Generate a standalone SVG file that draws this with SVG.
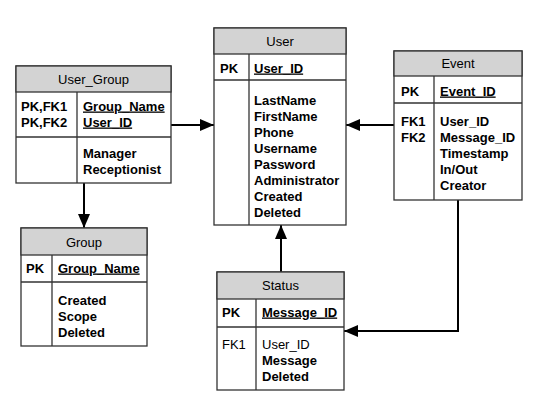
<svg xmlns="http://www.w3.org/2000/svg" width="540" height="410" viewBox="0 0 540 410">
<defs>
<marker id="arr" markerWidth="14" markerHeight="12" refX="14" refY="6" orient="auto" markerUnits="userSpaceOnUse">
<path d="M0,0 L14,6 L0,12 Z" fill="#000"/>
</marker>
</defs>
<style>
.box{fill:#fff;stroke:#333;stroke-width:1.3}
.hdr{fill:#d3d3d3;stroke:#333;stroke-width:1.3}
.ln{stroke:#333;stroke-width:1.3;fill:none}
text{font-family:"Liberation Sans",Arial,sans-serif;font-size:13px;fill:#000}
.h{text-anchor:middle}
.b{font-weight:bold}
.u{font-weight:bold;text-decoration:underline}
.con{stroke:#000;stroke-width:2;fill:none;marker-end:url(#arr)}
</style>
<rect width="540" height="410" fill="#fff"/>
<g id="connectors">
<path class="con" d="M171,125 H214"/>
<path class="con" d="M394,125 H346"/>
<path class="con" d="M84,183 V228"/>
<path class="con" d="M281,272 V225"/>
<path class="con" d="M458,200 V331 H344"/>
</g>
<g id="User">
<rect class="box" x="214" y="28" width="132" height="197"/>
<rect class="hdr" x="214" y="28" width="132" height="26"/>
<line class="ln" x1="214" y1="80" x2="346" y2="80"/>
<line class="ln" x1="249" y1="54" x2="249" y2="225"/>
<text class="h" x="280" y="45.5">User</text>
<text class="b" x="220" y="72.5">PK</text>
<text class="u" x="254" y="72.5">User_ID</text>
<text class="b" x="254" y="104.5">LastName</text>
<text class="b" x="254" y="120.5">FirstName</text>
<text class="b" x="254" y="136.5">Phone</text>
<text class="b" x="254" y="152.5">Username</text>
<text class="b" x="254" y="168.5">Password</text>
<text class="b" x="254" y="184.5">Administrator</text>
<text class="b" x="254" y="200.5">Created</text>
<text class="b" x="254" y="216.5">Deleted</text>
</g>
<g id="Event">
<rect class="box" x="394" y="51" width="128" height="149"/>
<rect class="hdr" x="394" y="51" width="128" height="25"/>
<line class="ln" x1="394" y1="103" x2="522" y2="103"/>
<line class="ln" x1="434" y1="76" x2="434" y2="200"/>
<text class="h" x="458" y="67.5">Event</text>
<text class="b" x="401" y="95.5">PK</text>
<text class="u" x="440" y="95.5">Event_ID</text>
<text class="b" x="401" y="125.5">FK1</text>
<text class="b" x="401" y="141.5">FK2</text>
<text class="b" x="440" y="125.5">User_ID</text>
<text class="b" x="440" y="141.5">Message_ID</text>
<text class="b" x="440" y="157.5">Timestamp</text>
<text class="b" x="440" y="173.5">In/Out</text>
<text class="b" x="440" y="189.5">Creator</text>
</g>
<g id="User_Group">
<rect class="box" x="16" y="66" width="155" height="117"/>
<rect class="hdr" x="16" y="66" width="155" height="26"/>
<line class="ln" x1="16" y1="137" x2="171" y2="137"/>
<line class="ln" x1="77" y1="92" x2="77" y2="183"/>
<text class="h" x="93.5" y="84">User_Group</text>
<text class="b" x="21" y="110.5">PK,FK1</text>
<text class="b" x="21" y="126.5">PK,FK2</text>
<text class="u" x="83" y="110.5">Group_Name</text>
<text class="u" x="83" y="126.5">User_ID</text>
<text class="b" x="83" y="157.5">Manager</text>
<text class="b" x="83" y="173.5">Receptionist</text>
</g>
<g id="Group">
<rect class="box" x="21" y="228" width="126" height="118"/>
<rect class="hdr" x="21" y="228" width="126" height="27"/>
<line class="ln" x1="21" y1="282" x2="147" y2="282"/>
<line class="ln" x1="52" y1="255" x2="52" y2="346"/>
<text class="h" x="84" y="246.5">Group</text>
<text class="b" x="26" y="272.5">PK</text>
<text class="u" x="58" y="272.5">Group_Name</text>
<text class="b" x="58" y="304.5">Created</text>
<text class="b" x="58" y="320.5">Scope</text>
<text class="b" x="58" y="336.5">Deleted</text>
</g>
<g id="Status">
<rect class="box" x="217" y="272" width="127" height="118"/>
<rect class="hdr" x="217" y="272" width="127" height="27"/>
<line class="ln" x1="217" y1="327" x2="344" y2="327"/>
<line class="ln" x1="256" y1="299" x2="256" y2="390"/>
<text class="h" x="280.5" y="289.5">Status</text>
<text class="b" x="222" y="316.5">PK</text>
<text class="u" x="262" y="316.5">Message_ID</text>
<text x="222" y="348.5">FK1</text>
<text x="262" y="348.5">User_ID</text>
<text class="b" x="262" y="364.5">Message</text>
<text class="b" x="262" y="380.5">Deleted</text>
</g>
</svg>
